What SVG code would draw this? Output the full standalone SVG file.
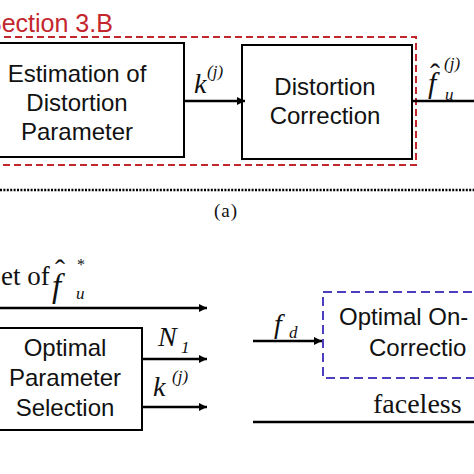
<svg xmlns="http://www.w3.org/2000/svg" width="474" height="474" viewBox="0 0 474 474">
<defs>
<marker id="ah" viewBox="0 0 10 10" refX="10" refY="5" markerWidth="10" markerHeight="8" markerUnits="userSpaceOnUse" orient="auto"><path d="M0,0 L10,5 L0,10 Z" fill="#000"/></marker>
<style>
.box{fill:#fff;stroke:#000;stroke-width:2}
.lbl{font-family:"Liberation Sans",Arial,sans-serif;font-size:24px;fill:#111;text-anchor:middle}
.lbl2{font-family:"Liberation Sans",Arial,sans-serif;font-size:24px;fill:#111}
.m{font-family:"Liberation Serif","Times New Roman",serif;font-style:italic;fill:#111}
.s{font-family:"Liberation Serif","Times New Roman",serif;fill:#111}
.ln{stroke:#000;stroke-width:2.5;fill:none}
.ar{stroke:#000;stroke-width:2.5;fill:none;marker-end:url(#ah)}
</style>
</defs>
<rect width="474" height="474" fill="#fff"/>
<g id="section3b">
<rect x="-40" y="37" width="456" height="128" fill="none" stroke="#c4262e" stroke-width="2" stroke-dasharray="7 4"/>
<text x="-15" y="32" font-family="Liberation Sans,Arial,sans-serif" font-size="25" fill="#c4262e">Section 3.B</text>
</g>
<g id="node-estimation">
<rect class="box" x="-30" y="43" width="214" height="114"/>
<text class="lbl" x="77" y="82">Estimation of</text>
<text class="lbl" x="77" y="111">Distortion</text>
<text class="lbl" x="77" y="140">Parameter</text>
</g>
<g id="node-correction">
<rect class="box" x="242" y="45" width="170" height="114"/>
<text class="lbl" x="325" y="95">Distortion</text>
<text class="lbl" x="325" y="124">Correction</text>
</g>
<g id="node-optimal-param">
<rect class="box" x="-30" y="328" width="172" height="102"/>
<text class="lbl" x="65" y="356">Optimal</text>
<text class="lbl" x="65" y="386">Parameter</text>
<text class="lbl" x="65" y="416">Selection</text>
</g>
<g id="node-online">
<rect x="323" y="292" width="180" height="86" fill="none" stroke="#4b3fbf" stroke-width="2" stroke-dasharray="9 5"/>
<text class="lbl2" x="339" y="325">Optimal On-</text>
<text class="lbl2" x="369" y="356">Correctio</text>
</g>
<g id="connectors">
<line class="ar" x1="184" y1="101" x2="245" y2="101"/>
<line class="ln" x1="412" y1="101" x2="474" y2="101"/>
<line x1="0" y1="190" x2="474" y2="190" stroke="#000" stroke-width="2.5" stroke-dasharray="2 1.4"/>
<line class="ar" x1="0" y1="308" x2="207" y2="308"/>
<line class="ar" x1="142" y1="359" x2="207" y2="359"/>
<line class="ar" x1="142" y1="407" x2="207" y2="407"/>
<line class="ar" x1="253" y1="341" x2="322" y2="341"/>
<line class="ln" x1="253" y1="422" x2="474" y2="422"/>
</g>
<g id="labels">
<text class="m" x="194" y="93" font-size="28">k</text>
<text class="m" x="207" y="77" font-size="17" fill="#444">(j)</text>
<text class="m" x="428" y="93" font-size="30">f</text>
<text class="s" x="430" y="84" font-size="30">ˆ</text>
<text class="m" x="444" y="69" font-size="17" fill="#444">(j)</text>
<text class="m" x="445" y="100" font-size="17">u</text>
<text class="s" x="226" y="217" font-size="19" text-anchor="middle" letter-spacing="1">(a)</text>
<text class="s" x="-14" y="285" font-size="27">Set of</text>
<text class="m" x="52" y="297" font-size="33">f</text>
<text class="s" x="55" y="280" font-size="30">ˆ</text>
<text class="s" x="77" y="270" font-size="16">*</text>
<text class="m" x="76" y="299" font-size="17">u</text>
<text class="m" x="158" y="346" font-size="28">N</text>
<text class="m" x="181" y="353" font-size="17">1</text>
<text class="m" x="153" y="396" font-size="28">k</text>
<text class="m" x="172" y="382" font-size="17" fill="#444">(j)</text>
<text class="m" x="274" y="333" font-size="28">f</text>
<text class="m" x="289" y="338" font-size="17">d</text>
<text class="s" x="373" y="413" font-size="28">faceless</text>
</g>
</svg>
